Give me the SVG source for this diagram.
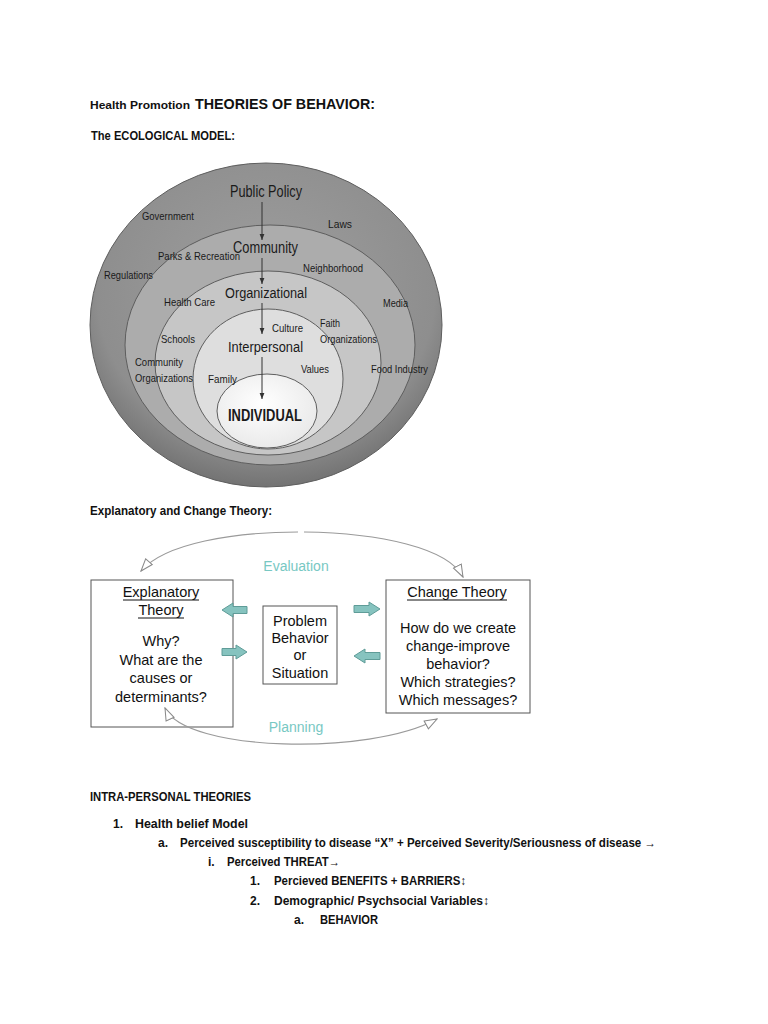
<svg xmlns="http://www.w3.org/2000/svg" width="768" height="1024" viewBox="0 0 768 1024">
<style>
.h{font-family:"Liberation Sans",Arial,sans-serif;font-weight:bold;fill:#111}
.e{font-family:"Liberation Sans",Arial,sans-serif;fill:#1a1a1a}
.b{font-family:"Liberation Sans",Arial,sans-serif;fill:#111;font-size:14.5px;text-anchor:middle}
.t{font-family:"Liberation Sans",Arial,sans-serif;fill:#78c8c3;font-size:14px;text-anchor:middle}
.ring{stroke:#5e5e5e;stroke-width:1}
.box{fill:#fff;stroke:#555;stroke-width:1}
.blk{fill:#86c3bf;stroke:#5f9c98;stroke-width:1}
.cur{fill:none;stroke:#9a9a9a;stroke-width:1.2}
.vl{stroke:#333;stroke-width:1;fill:none}
</style>
<defs>
<radialGradient id="g1" cx="50%" cy="40%" r="60%">
<stop offset="0" stop-color="#9f9f9f"/><stop offset="0.8" stop-color="#8e8e8e"/><stop offset="1" stop-color="#737373"/>
</radialGradient>
<radialGradient id="g5" cx="45%" cy="40%" r="65%">
<stop offset="0" stop-color="#ffffff"/><stop offset="1" stop-color="#e8e8e8"/>
</radialGradient>
<marker id="ah" viewBox="0 0 10 10" refX="10" refY="5" markerWidth="6" markerHeight="6" orient="auto">
<path d="M0,1 L10,5 L0,9 Z" fill="#333"/>
</marker>
<marker id="oa" viewBox="0 0 16 12" refX="15" refY="6" markerWidth="14" markerHeight="11" markerUnits="userSpaceOnUse" orient="auto-start-reverse">
<path d="M1,1 L15,6 L1,11 Z" fill="#fff" stroke="#8a8a8a" stroke-width="1.2"/>
</marker>
</defs>
<rect width="768" height="1024" fill="#fff"/>

<g id="header">
<text class="h" x="90" y="109" font-size="11.5" textLength="100" lengthAdjust="spacingAndGlyphs">Health Promotion</text>
<text class="h" x="195" y="109" font-size="15" textLength="180" lengthAdjust="spacingAndGlyphs">THEORIES OF BEHAVIOR:</text>
<text class="h" x="91" y="140" font-size="12.5" textLength="144" lengthAdjust="spacingAndGlyphs">The ECOLOGICAL MODEL:</text>
</g>

<g id="ecological-model">
<ellipse id="ring-public-policy" class="ring" cx="266" cy="325" rx="176" ry="162" fill="url(#g1)"/>
<ellipse id="ring-community" class="ring" cx="270" cy="345" rx="145" ry="120" fill="#acacac"/>
<ellipse id="ring-organizational" class="ring" cx="268" cy="363" rx="113" ry="92" fill="#c6c6c6"/>
<ellipse id="ring-interpersonal" class="ring" cx="268" cy="379" rx="75" ry="70" fill="#dedede"/>
<ellipse id="ring-individual" class="ring" cx="267" cy="411" rx="50" ry="37" fill="url(#g5)"/>
<g id="eco-arrows">
<line class="vl" x1="262" y1="202" x2="262" y2="240" marker-end="url(#ah)"/>
<line class="vl" x1="262" y1="258" x2="262" y2="284" marker-end="url(#ah)"/>
<line class="vl" x1="262" y1="303" x2="262" y2="334" marker-end="url(#ah)"/>
<line class="vl" x1="262" y1="357" x2="262" y2="399" marker-end="url(#ah)"/>
</g>
<g id="eco-labels">
<text class="e" x="230" y="197" font-size="16" textLength="72" lengthAdjust="spacingAndGlyphs">Public Policy</text>
<text class="e" x="142" y="220" font-size="10.5" textLength="52" lengthAdjust="spacingAndGlyphs">Government</text>
<text class="e" x="328" y="228" font-size="10.5" textLength="24" lengthAdjust="spacingAndGlyphs">Laws</text>
<text class="e" x="233" y="253" font-size="16" textLength="65" lengthAdjust="spacingAndGlyphs">Community</text>
<text class="e" x="158" y="260" font-size="10.5" textLength="82" lengthAdjust="spacingAndGlyphs">Parks &amp; Recreation</text>
<text class="e" x="104" y="279" font-size="10.5" textLength="49" lengthAdjust="spacingAndGlyphs">Regulations</text>
<text class="e" x="303" y="272" font-size="10.5" textLength="60" lengthAdjust="spacingAndGlyphs">Neighborhood</text>
<text class="e" x="225" y="298" font-size="15.5" textLength="82" lengthAdjust="spacingAndGlyphs">Organizational</text>
<text class="e" x="164" y="306" font-size="10.5" textLength="51" lengthAdjust="spacingAndGlyphs">Health Care</text>
<text class="e" x="383" y="307" font-size="10.5" textLength="25" lengthAdjust="spacingAndGlyphs">Media</text>
<text class="e" x="272" y="332" font-size="10.5" textLength="31" lengthAdjust="spacingAndGlyphs">Culture</text>
<text class="e" x="320" y="327" font-size="10.5" textLength="20" lengthAdjust="spacingAndGlyphs">Faith</text>
<text class="e" x="320" y="343" font-size="10.5" textLength="57" lengthAdjust="spacingAndGlyphs">Organizations</text>
<text class="e" x="161" y="343" font-size="10.5" textLength="34" lengthAdjust="spacingAndGlyphs">Schools</text>
<text class="e" x="228" y="352" font-size="15.5" textLength="75" lengthAdjust="spacingAndGlyphs">Interpersonal</text>
<text class="e" x="135" y="366" font-size="10.5" textLength="48" lengthAdjust="spacingAndGlyphs">Community</text>
<text class="e" x="135" y="382" font-size="10.5" textLength="58" lengthAdjust="spacingAndGlyphs">Organizations</text>
<text class="e" x="208" y="383" font-size="10.5" textLength="29" lengthAdjust="spacingAndGlyphs">Family</text>
<text class="e" x="301" y="373" font-size="10.5" textLength="28" lengthAdjust="spacingAndGlyphs">Values</text>
<text class="e" x="371" y="373" font-size="10.5" textLength="57" lengthAdjust="spacingAndGlyphs">Food Industry</text>
<text class="e" x="228" y="421" font-size="17" font-weight="bold" textLength="74" lengthAdjust="spacingAndGlyphs">INDIVIDUAL</text>
</g>
</g>

<g id="section2-title">
<text class="h" x="90" y="515" font-size="12.5" textLength="182" lengthAdjust="spacingAndGlyphs">Explanatory and Change Theory:</text>
</g>

<g id="node-explanatory">
<rect class="box" x="91" y="580" width="142" height="147"/>
<text class="b" x="161" y="597">Explanatory</text>
<line x1="123" y1="600" x2="199" y2="600" stroke="#111" stroke-width="1"/>
<text class="b" x="161" y="615">Theory</text>
<line x1="138" y1="618" x2="184" y2="618" stroke="#111" stroke-width="1"/>
<text class="b" x="161" y="646">Why?</text>
<text class="b" x="161" y="665">What are the</text>
<text class="b" x="161" y="683">causes or</text>
<text class="b" x="161" y="702">determinants?</text>
</g>

<g id="node-problem">
<rect class="box" x="263" y="606" width="74" height="78"/>
<text class="b" x="300" y="626">Problem</text>
<text class="b" x="300" y="643">Behavior</text>
<text class="b" x="300" y="660">or</text>
<text class="b" x="300" y="678">Situation</text>
</g>

<g id="node-change">
<rect class="box" x="386" y="580" width="144" height="133"/>
<text class="b" x="457" y="597">Change Theory</text>
<line x1="407" y1="600" x2="507" y2="600" stroke="#111" stroke-width="1"/>
<text class="b" x="458" y="633">How do we create</text>
<text class="b" x="458" y="651">change-improve</text>
<text class="b" x="458" y="669">behavior?</text>
<text class="b" x="458" y="687">Which strategies?</text>
<text class="b" x="458" y="705">Which messages?</text>
</g>

<g id="connectors">
<path class="cur" d="M298,532 C235,532 165,543 141,571" marker-end="url(#oa)"/>
<path class="cur" d="M304,532 C380,533 448,548 463,577" marker-end="url(#oa)"/>
<path class="cur" d="M165,708 C185,752 370,756 437,719" marker-start="url(#oa)" marker-end="url(#oa)"/>
<path class="blk" d="M222,610 L233,603 L233,606.5 L247,606.5 L247,613.5 L233,613.5 L233,617 Z"/>
<path class="blk" d="M247,652 L236,645 L236,648.5 L222,648.5 L222,655.5 L236,655.5 L236,659 Z"/>
<path class="blk" d="M380,609 L369,602 L369,605.5 L354,605.5 L354,612.5 L369,612.5 L369,616 Z"/>
<path class="blk" d="M354,656 L365,649 L365,652.5 L380,652.5 L380,659.5 L365,659.5 L365,663 Z"/>
</g>

<g id="label-evaluation"><text class="t" x="296" y="571">Evaluation</text></g>
<g id="label-planning"><text class="t" x="296" y="732">Planning</text></g>

<g id="intrapersonal">
<text class="h" x="90" y="801" font-size="12" textLength="161" lengthAdjust="spacingAndGlyphs">INTRA-PERSONAL THEORIES</text>
<text class="h" x="113" y="828" font-size="12">1.</text>
<text class="h" x="135" y="828" font-size="12" textLength="113" lengthAdjust="spacingAndGlyphs">Health belief Model</text>
<text class="h" x="158" y="847" font-size="12">a.</text>
<text class="h" x="180" y="847" font-size="12" textLength="476" lengthAdjust="spacingAndGlyphs">Perceived susceptibility to disease “X” + Perceived Severity/Seriousness of disease →</text>
<text class="h" x="208" y="866" font-size="12">i.</text>
<text class="h" x="227" y="866" font-size="12" textLength="113" lengthAdjust="spacingAndGlyphs">Perceived THREAT→</text>
<text class="h" x="250" y="885" font-size="12">1.</text>
<text class="h" x="274" y="885" font-size="12" textLength="192" lengthAdjust="spacingAndGlyphs">Percieved BENEFITS + BARRIERS↕</text>
<text class="h" x="250" y="905" font-size="12">2.</text>
<text class="h" x="274" y="905" font-size="12" textLength="215" lengthAdjust="spacingAndGlyphs">Demographic/ Psychsocial Variables↕</text>
<text class="h" x="294" y="924" font-size="12">a.</text>
<text class="h" x="320" y="924" font-size="12" textLength="58" lengthAdjust="spacingAndGlyphs">BEHAVIOR</text>
</g>
</svg>
